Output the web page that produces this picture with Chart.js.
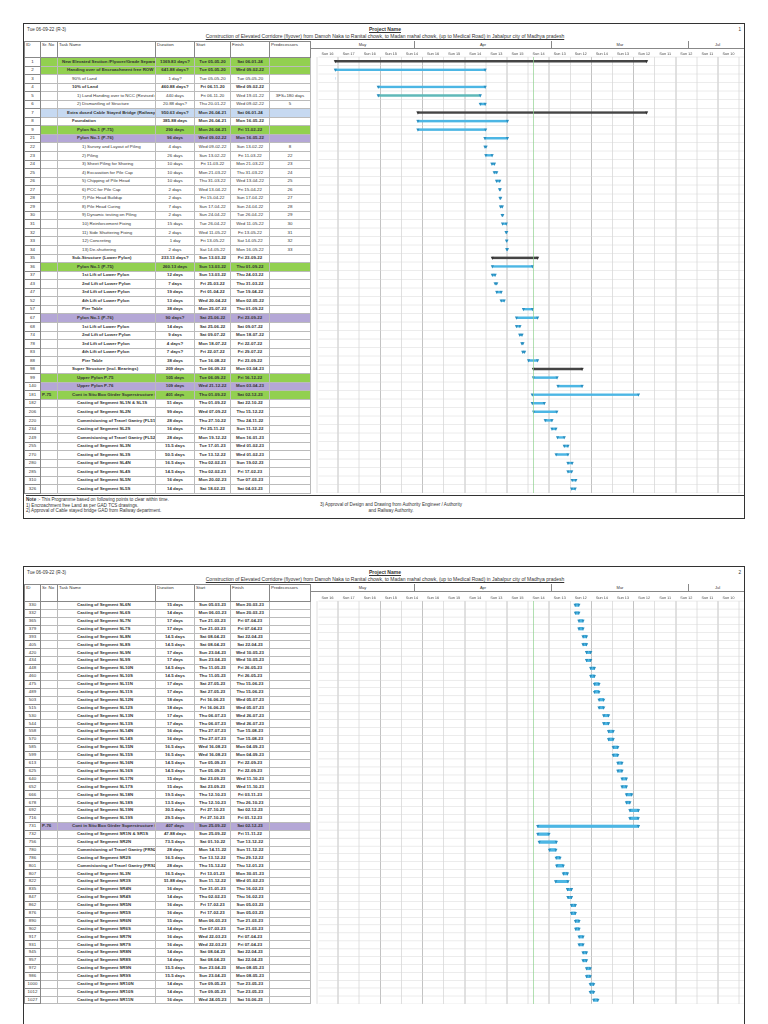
<!DOCTYPE html>
<html>
<head>
<meta charset="utf-8">
<script src="https://cdn.jsdelivr.net/npm/chart.js@4.4.0/dist/chart.umd.min.js"></script>
<style>
  html, body { margin: 0; padding: 0; background: #fff; width: 768px; height: 1024px; overflow: hidden; font-family: "Liberation Sans", Arial, sans-serif; color: #333; }
  .page { position: absolute; left: 23px; width: 722px; border: 1.5px solid #333; background: #fff; overflow: hidden; box-sizing: border-box; }
  .abs { position: absolute; }
  .small { font-size: 4.6px; white-space: nowrap; }
  .title { left: 0; width: 722px; text-align: center; font-size: 5px; white-space: nowrap; }
  .u { text-decoration: underline; }
  table { position: absolute; left: 0; border-collapse: collapse; table-layout: fixed; font-size: 4.4px; }
  td { border: 0.5px solid #bbb; padding: 0 1px; white-space: nowrap; overflow: hidden; line-height: 1; }
  .hdr td { vertical-align: top; padding-top: 1px; border-color: #888; }
  .tier { border-left: 0.5px solid #888; border-bottom: 0.5px solid #888; font-size: 4px; text-align: center; box-sizing: border-box; height: 8px; line-height: 8px; top: 0; }
</style>
</head>
<body>
<div class="page" id="p1" style="top:23px;height:496px;"></div>
<div class="page" id="p2" style="top:566px;height:470px;"></div>
<script>
// ---------- data: page 1 ----------
const ids1 = [1,2,3,4,5,6,7,8,9,21,22,23,24,25,26,27,28,29,30,31,32,33,34,35,36,37,43,47,52,57,67,68,74,78,83,88,98,99,140,181,182,206,220,234,249,255,270,280,285,310,326];
const srNo1 = {181: 'P-75'};
const names1 = [
  'New Elevated Section /Flyover/Grade Separator','Handing over of Encroachment free ROW','90% of Land','10% of Land',
  '1) Land Handing over to NCC (Revised date)','2) Dismantling of Structure','Extra dosed Cable Stayed Bridge (Railway Span)',
  'Foundation','Pylon No-1 (P-75)','Pylon No-1 (P-76)','1) Survey and Layout of Piling','2) Piling','3) Sheet Piling for Shoring',
  '4) Excavation for Pile Cap','5) Chipping of Pile Head','6) PCC for Pile Cap','7) Pile Head Buildup','8) Pile Head Curing',
  '9) Dynamic testing on Piling','10) Reinforcement Fixing','11) Side Shuttering Fixing','12) Concreting','13) De-shuttering',
  'Sub-Structure (Lower Pylon)','Pylon No-1 (P-75)','1st Lift of Lower Pylon','2nd Lift of Lower Pylon','3rd Lift of Lower Pylon',
  '4th Lift of Lower Pylon','Pier Table','Pylon No-1 (P-76)','1st Lift of Lower Pylon','2nd Lift of Lower Pylon','3rd Lift of Lower Pylon',
  '4th Lift of Lower Pylon','Pier Table','Super Structure (incl. Bearings)','Upper Pylon P-75','Upper Pylon P-76',
  'Cont in Situ Box Girder Superstructure for Pylon P-75','Casting of Segment SL1N & SL1S','Casting of Segment SL2N',
  'Commisioning of Travel Gantry (FL51)','Casting of Segment SL2S','Commisioning of Travel Gantry (FL52)','Casting of Segment SL3N',
  'Casting of Segment SL3S','Casting of Segment SL4N','Casting of Segment SL4S','Casting of Segment SL5N','Casting of Segment SL5S'
];
const durations1 = ['1369.83 days?','641.88 days?','1 day?','460.88 days?','440 days','20.88 days?','950.63 days?','385.88 days','290 days','96 days',
  '4 days','26 days','10 days','10 days','10 days','2 days','2 days','7 days','2 days','15 days','2 days','1 day','2 days',
  '233.13 days?','260.13 days','12 days','7 days','19 days','13 days','38 days','90 days?','14 days','9 days','4 days?','7 days?','38 days',
  '209 days','105 days','109 days','401 days','51 days','99 days','28 days','16 days','28 days','15.5 days','50.5 days','16.5 days','14.5 days','16 days','14 days'];
const starts1 = ['05-05-20','05-05-20','05-05-20','06-11-20','06-11-20','20-01-22','26-04-21','26-04-21','26-04-21','09-02-22',
  '09-02-22','13-02-22','11-03-22','21-03-22','31-03-22','13-04-22','15-04-22','17-04-22','24-04-22','26-04-22','11-05-22','13-05-22','14-05-22',
  '13-03-22','13-03-22','13-03-22','25-03-22','01-04-22','20-04-22','25-07-22','25-06-22','25-06-22','09-07-22','18-07-22','22-07-22','16-08-22',
  '06-09-22','06-09-22','21-12-22','01-09-22','01-09-22','07-09-22','27-10-22','25-11-22','19-12-22','17-01-23','13-12-22','02-02-23','02-02-23','20-02-23','18-02-23'];
const finishes1 = ['06-01-24','09-02-22','05-05-20','09-02-22','19-01-22','09-02-22','06-01-24','16-05-22','11-02-22','16-05-22',
  '13-02-22','11-03-22','21-03-22','31-03-22','13-04-22','15-04-22','17-04-22','24-04-22','26-04-22','11-05-22','13-05-22','14-05-22','16-05-22',
  '23-09-22','01-09-22','24-03-22','31-03-22','19-04-22','02-05-22','01-09-22','23-09-22','09-07-22','18-07-22','22-07-22','29-07-22','23-09-22',
  '03-04-23','16-12-22','03-04-23','02-12-23','22-10-22','15-12-22','24-11-22','11-12-22','16-01-23','01-02-23','01-02-23','19-02-23','17-02-23','07-03-23','04-03-23'];
const preds1 = {5: '3FS+180 days', 6: '5', 22: '8', 23: '22', 24: '23', 25: '24', 26: '25', 27: '26', 28: '27', 29: '28', 30: '29', 31: '30', 32: '31', 33: '32', 34: '33'};
// outline level and kind: T = top summary, S = summary, t = task
const levels1 = [0,1,2,2,3,3,1,2,3,3,4,4,4,4,4,4,4,4,4,4,4,4,4,2,3,4,4,4,4,4,3,4,4,4,4,4,2,3,3,2,3,3,3,3,3,3,3,3,3,3,3];
const kinds1 = 'TStSttTSSSttttttttttttt TSttttt Sttttt TSSSttttttttttt'.replace(/ /g,'');
const bands1 = {1: 'g', 2: 'g', 7: 'b', 9: 'g', 21: 'p', 36: 'g', 67: 'p', 99: 'g', 140: 'p', 181: 'g'};

// ---------- data: page 2 ----------
const ids2 = [330,332,365,379,393,405,420,434,448,460,475,489,503,515,530,544,558,570,585,599,613,625,640,652,666,678,692,716,
  731,732,756,780,786,801,807,822,835,847,862,876,890,902,917,931,945,957,972,986,1000,1012,1027];
const srNo2 = {731: 'P-76'};
const names2 = ['SL6N','SL6S','SL7N','SL7S','SL8N','SL8S','SL9N','SL9S','SL10N','SL10S','SL11N','SL11S','SL12N','SL12S','SL13N','SL13S',
  'SL14N','SL14S','SL15N','SL15S','SL16N','SL16S','SL17N','SL17S','SL18N','SL18S','SL19N','SL19S'].map(s => 'Casting of Segment ' + s)
  .concat(['Cont in Situ Box Girder Superstructure for Pylon P-76','Casting of Segment SR1N & SR1S','Casting of Segment SR2N',
  'Commisioning of Travel Gantry (FRN2)','Casting of Segment SR2S','Commisioning of Travel Gantry (FRS2)'])
  .concat(['SL3N','SR3S','SR4N','SR4S','SR5N','SR5S','SR6N','SR6S','SR7N','SR7S','SR8N','SR8S','SR9N','SR9S','SR10N','SR10S','SR11N'].map(s => 'Casting of Segment ' + s));
const durations2 = ['15 days','14 days','17 days','17 days','14.5 days','14.5 days','17 days','17 days','14.5 days','14.5 days','17 days','17 days',
  '18 days','18 days','17 days','17 days','16 days','16 days','16.5 days','16.5 days','14.5 days','14.5 days','15 days','15 days','19.5 days','13.5 days',
  '30.5 days','29.5 days','407 days','47.88 days','73.5 days','28 days','16.5 days','28 days','16.5 days','51.88 days','16 days','14 days','16 days','16 days',
  '15 days','14 days','16 days','16 days','14 days','14 days','15.5 days','15.5 days','14 days','14 days','16 days'];
const starts2 = ['05-03-23','06-03-23','21-03-23','21-03-23','08-04-23','08-04-23','23-04-23','23-04-23','11-05-23','11-05-23','27-05-23','27-05-23',
  '16-06-23','16-06-23','06-07-23','06-07-23','27-07-23','27-07-23','16-08-23','16-08-23','05-09-23','05-09-23','23-09-23','23-09-23','12-10-23','12-10-23',
  '27-10-23','27-10-23','25-09-22','25-09-22','01-10-22','14-11-22','13-12-22','15-12-22','13-01-23','11-12-22','31-01-23','02-02-23','17-02-23','17-02-23',
  '06-03-23','07-03-23','22-03-23','22-03-23','08-04-23','08-04-23','23-04-23','23-04-23','09-05-23','09-05-23','24-05-23'];
const finishes2 = ['20-03-23','20-03-23','07-04-23','07-04-23','22-04-23','22-04-23','10-05-23','10-05-23','26-05-23','26-05-23','15-06-23','15-06-23',
  '05-07-23','05-07-23','26-07-23','26-07-23','15-08-23','15-08-23','04-09-23','04-09-23','22-09-23','22-09-23','11-10-23','11-10-23','03-11-23','26-10-23',
  '02-12-23','01-12-23','02-12-23','11-11-22','13-12-22','11-12-22','29-12-22','12-01-23','30-01-23','01-02-23','16-02-23','16-02-23','05-03-23','05-03-23',
  '21-03-23','21-03-23','07-04-23','07-04-23','22-04-23','22-04-23','08-05-23','08-05-23','23-05-23','23-05-23','10-06-23'];
const levels2 = ids2.map(id => id === 731 ? 2 : 3);
const kinds2 = ids2.map(id => id === 731 ? 'S' : 't').join('');
const bands2 = {731: 'p'};

// ---------- timescale ----------
const axisMin = '23-02-20';
const axisMax = '10-03-25';
const tickDates = ['16-02-20','17-05-20','16-08-20','15-11-20','14-02-21','16-05-21','15-08-21','14-11-21','13-02-22','15-05-22','14-08-22',
  '13-11-22','12-02-23','14-05-23','13-08-23','12-11-23','11-02-24','12-05-24','11-08-24','10-11-24','09-02-25'];
const tickLabels = ['Sun 16','Sun 17','Sun 16','Sun 15','Sun 14','Sun 16','Sun 15','Sun 14','Sun 13','Sun 15','Sun 14',
  'Sun 13','Sun 12','Sun 14','Sun 13','Sun 12','Sun 11','Sun 12','Sun 11','Sun 10','Sun 09'];
const topTier = ['May','Apr','Mar','Jul'];
const statusDate = '06-09-22';

const DAY = 86400000;
function d(s) { const [dd, mm, yy] = s.split('-').map(Number); return Date.UTC(2000 + yy, mm - 1, dd); }

const colW = [16, 17, 98, 39, 36, 39, 41];
const bandColor = { g: '#92d050', p: '#b4a7d6', b: '#c6d9f1' };

function el(parent, cls, style, html) {
  const e = document.createElement('div');
  e.className = cls; e.setAttribute('style', style); e.innerHTML = html;
  parent.appendChild(e); return e;
}

function buildPage(pid, pageNo, rowH, hdrTop, rowsTop, ids, srNo, names, durs, starts, fins, preds, levels, kinds, bands) {
  const page = document.getElementById(pid);
  el(page, 'abs small', 'left:3px;top:3px;', 'Tue 06-09-22 (R-3)');
  el(page, 'abs title u', 'top:2px;font-weight:bold;', 'Project Name');
  el(page, 'abs title u', 'top:9px;', 'Construction of Elevated Corridore (flyover) from Damoh Naka to Ranital chowk, to Madan mahal chowk, (up to Medical Road) in Jabalpur city of Madhya pradesh');
  el(page, 'abs small', 'right:3px;top:3px;', String(pageNo));

  // table
  const t = document.createElement('table');
  t.style.top = hdrTop + 'px';
  t.style.width = '286px';
  let h = '<colgroup>' + colW.map(w => `<col style="width:${w}px">`).join('') + '</colgroup>';
  h += `<tr class="hdr" style="height:${rowsTop - hdrTop}px"><td>ID</td><td>Sr. No</td><td>Task Name</td><td>Duration</td><td>Start</td><td>Finish</td><td>Predecessors</td></tr>`;
  ids.forEach((id, i) => {
    const plain = /^\d+\)/.test(names[i]) || names[i] === '90% of Land';
    const bg = bands[id] ? `background:${bandColor[bands[id]]};` : '';
    const fw = plain ? 'normal' : 'bold';
    h += `<tr style="height:${rowH}px;font-weight:${fw}">` +
      `<td style="text-align:center;font-weight:normal;border-color:#888">${id}</td>` +
      `<td style="${bg}">${srNo[id] || ''}</td>` +
      `<td style="${bg}padding-left:${4 + levels[i] * 5}px">${names[i]}</td>` +
      `<td style="${bg}text-align:center">${durs[i]}</td>` +
      `<td style="${bg}text-align:center">${['Sun','Mon','Tue','Wed','Thu','Fri','Sat'][new Date(d(starts[i])).getUTCDay()]} ${starts[i]}</td>` +
      `<td style="${bg}text-align:center">${['Sun','Mon','Tue','Wed','Thu','Fri','Sat'][new Date(d(fins[i])).getUTCDay()]} ${fins[i]}</td>` +
      `<td style="${bg}text-align:center;font-weight:normal">${preds[id] || ''}</td></tr>`;
  });
  t.innerHTML = h;
  page.appendChild(t);

  // top tier
  const tierEdges = [286, 390, 527, 664, 722];
  topTier.forEach((lab, i) => {
    el(page, 'abs tier', `top:${hdrTop}px;left:${tierEdges[i]}px;width:${tierEdges[i + 1] - tierEdges[i]}px;`, lab);
  });

  // gantt canvas
  const axisH = 8;
  const cv = document.createElement('canvas');
  const cvH = axisH + rowH * ids.length;
  cv.width = 436; cv.height = cvH;
  cv.setAttribute('style', `position:absolute;left:286px;top:${rowsTop - axisH}px;width:436px;height:${cvH}px;`);
  page.appendChild(cv);

  const capPlugin = {
    id: 'caps',
    afterDatasetsDraw(chart) {
      const ctx = chart.ctx;
      const meta = chart.getDatasetMeta(0);
      meta.data.forEach((bar, i) => {
        const k = kinds[i];
        if (k === 'x') return;
        const x0 = Math.min(bar.base, bar.x), x1 = Math.max(bar.base, bar.x), y = bar.y;
        if (ids[i] === 3) return;
        ctx.save();
        ctx.fillStyle = k === 'T' ? '#333' : '#2a8fc0';
        [x0, x1].forEach(x => {
          ctx.beginPath();
          ctx.moveTo(x - 1.6, y - 1.2); ctx.lineTo(x + 1.6, y - 1.2); ctx.lineTo(x, y + 2); ctx.closePath(); ctx.fill();
        });
        ctx.restore();
      });
      // status date line
      const xs = chart.scales.x.getPixelForValue(d(statusDate));
      ctx.save();
      ctx.strokeStyle = '#8fd18f'; ctx.lineWidth = 0.7;
      ctx.beginPath(); ctx.moveTo(xs, chart.chartArea.top); ctx.lineTo(xs, chart.chartArea.bottom); ctx.stroke();
      ctx.restore();
    }
  };

  new Chart(cv.getContext('2d'), {
    type: 'bar',
    data: {
      labels: ids.map(String),
      datasets: [{
        data: ids.map((id, i) => [d(starts[i]), d(fins[i]) + DAY]),
        backgroundColor: ids.map((id, i) => id === 5 ? '#5fb8b8' : id === 3 ? '#cfe3f5' : kinds[i] === 'T' ? '#444' : '#4cb6e4'),
        barThickness: ids.map((id, i) => id === 5 ? 3 : kinds[i] === 't' ? 2.6 : 1.8),
        borderSkipped: false,
        borderWidth: 0
      }]
    },
    options: {
      indexAxis: 'y',
      responsive: false,
      animation: false,
      devicePixelRatio: 2,
      layout: { padding: 0 },
      plugins: { legend: { display: false }, tooltip: { enabled: false } },
      scales: {
        x: {
          type: 'linear', position: 'top', min: d(axisMin), max: d(axisMax),
          afterBuildTicks: s => { s.ticks = tickDates.map(v => ({ value: d(v) })); },
          afterFit: s => { s.height = axisH; },
          ticks: {
            callback: (v, i) => tickLabels[i], font: { size: 3.8, family: 'Liberation Sans' }, color: '#444',
            maxRotation: 0, autoSkip: false, padding: 1, labelOffset: 10.5
          },
          grid: { color: (c) => c.index % 2 === 1 ? '#999' : '#ccc', lineWidth: 0.6, drawTicks: false },
          border: { display: false }
        },
        y: {
          ticks: { display: false },
          afterFit: s => { s.width = 0; },
          grid: { offset: true, color: '#d8d8d8', lineWidth: 0.5, drawTicks: false },
          border: { display: false }
        }
      }
    },
    plugins: [capPlugin]
  });
}

buildPage('p1', 1, 436 / ids1.length, 17, 33, ids1, srNo1, names1, durations1, starts1, finishes1, preds1, levels1, kinds1, bands1);
buildPage('p2', 2, 7.9, 17, 34, ids2, srNo2, names2, durations2, starts2, finishes2, {}, levels2, kinds2, bands2);

// notes on page 1
const p1 = document.getElementById('p1');
el(p1, 'abs small', 'left:2px;top:471px;border-top:1px solid #333;width:718px;padding-top:1px;line-height:1.25;',
  '<b>Note</b> :- This Programme based on following points to clear within time.<br>1) Encroachment free Land as per GAD TCS drawings.<br>2) Approval of Cable stayed bridge GAD from Railway department.');
el(p1, 'abs small', 'left:296px;top:478px;text-align:center;line-height:1.25;',
  '3) Approval of Design and Drawing from Authority Engineer / Authority<br>and Railway Authority.');
</script>
</body>
</html>
